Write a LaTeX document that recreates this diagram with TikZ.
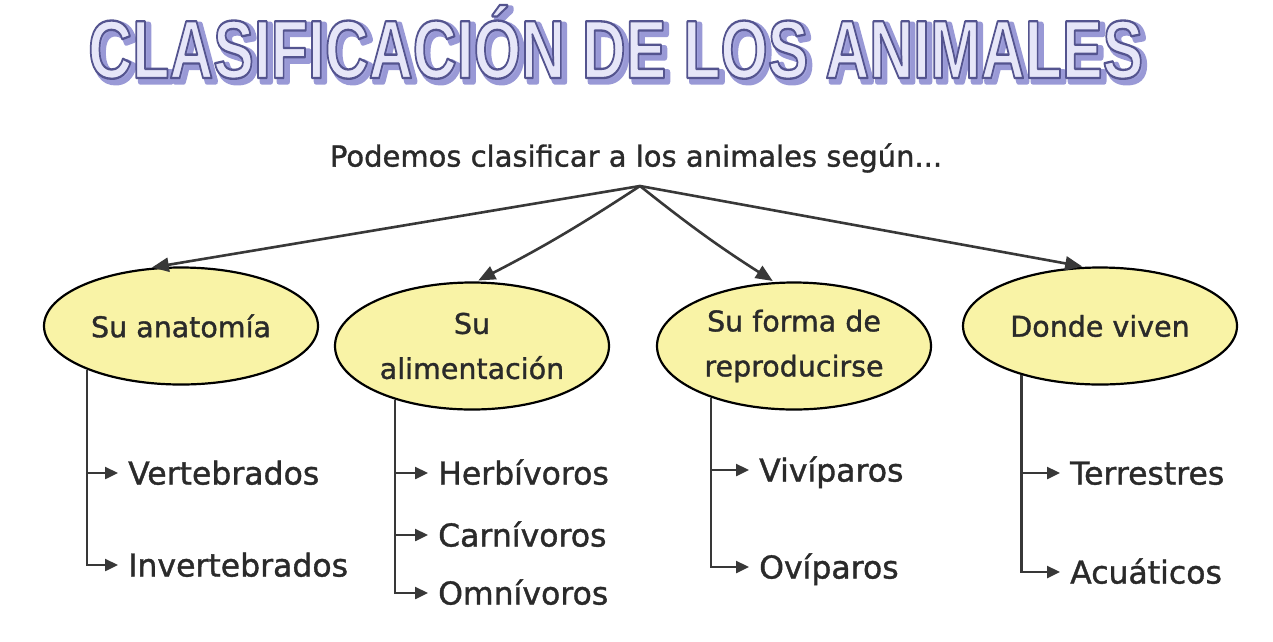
\documentclass[tikz,border=0pt]{standalone}
\usepackage{fontspec}
\setmainfont[RawFeature={embolden=1.2}]{DejaVu Sans}
\newfontfamily\titlefont{Liberation Sans}
\usetikzlibrary{shapes.geometric,arrows.meta,calc}
\definecolor{ink}{HTML}{2A2A2A}
\definecolor{lineink}{HTML}{383838}
\definecolor{ovalfill}{HTML}{F9F3A6}
\definecolor{ttlfill}{HTML}{E6E6F8}
\definecolor{ttlshadow}{HTML}{A2A2DC}
\newcommand{\ttlraw}{\fontsize{78pt}{80pt}\titlefont\bfseries CLASIFICACIÓN DE LOS ANIMALES}
\newcommand{\ttlstroke}[2]{\resizebox{1055pt}{73pt}{\special{pdf:literal direct #1 RG #2 w 1 j 2 Tr}\ttlraw\special{pdf:literal direct 0 Tr}}}
\begin{document}
\begin{tikzpicture}[x=1pt,y=-1pt,
  oval/.style={ellipse,draw=black,line width=2.2pt,fill=ovalfill,minimum width=274pt,inner sep=0pt},
  ovaltext/.style={text=ink,font=\fontsize{28.5pt}{45pt}\selectfont,align=center},
  child/.style={anchor=west,inner xsep=10pt,inner ysep=0pt,text height=23pt,text depth=0pt,text=ink,font=\fontsize{31.5pt}{34pt}\selectfont},
  arr/.style={draw=lineink,line width=2.6pt,-{Triangle[length=17pt,width=14pt]}},
  br/.style={draw=lineink,line width=2.4pt,-{Triangle[length=13pt,width=12pt]}},
  ttl/.style={anchor=base west,inner sep=0pt}]
\useasboundingbox[fill=white] (0,0) rectangle (1273,641);
% title
\node[ttl,text=ttlshadow] (titleshadow) at (92,81.5) {\ttlstroke{0.60 0.60 0.84}{6}};
\node[ttl,text=ttlfill] (title) at (88,78) {\ttlstroke{0.33 0.33 0.56}{2.2}};
% root
\node[text=ink,font=\fontsize{29pt}{32pt}\selectfont] (root) at (636,158) {Podemos clasificar a los animales según...};
\coordinate (r) at (640,186);
% ovals
\node[oval,minimum height=117pt,label={[ovaltext]center:Su anatomía}] (e1) at (181,326) {};
\node[oval,minimum height=127pt,label={[ovaltext]center:Su\\alimentación}] (e2) at (472,346) {};
\node[oval,minimum height=127pt,label={[ovaltext]center:Su forma de\\reproducirse}] (e3) at (794,346) {};
\node[oval,minimum height=117pt,label={[ovaltext]center:Donde viven}] (e4) at (1100,326) {};
\draw[arr,shorten >=3pt] (r) -- (e1.119);
\draw[arr,shorten >=2pt] (r) to[bend left=3] (e2.86);
\draw[arr,shorten >=2pt] (r) to[bend right=3] (e3.107);
\draw[arr,shorten >=2pt] (r) -- (e4.105);
% children
\node[child] (a1) at (118,473) {Vertebrados};
\node[child] (a2) at (118,565) {Invertebrados};
\node[child] (b1) at (428,473) {Herbívoros};
\node[child] (b2) at (428,535) {Carnívoros};
\node[child] (b3) at (428,593) {Omnívoros};
\node[child] (c1) at (749,470) {Vivíparos};
\node[child] (c2) at (749,567) {Ovíparos};
\node[child] (d1) at (1060,473) {Terrestres};
\node[child] (d2) at (1060,572) {Acuáticos};
\draw[br] (e1.205) |- (a1.west);
\draw[br] (e1.205) |- (a2.west);
\draw[br] (e2.215) |- (b1.west);
\draw[br] (e2.215) |- (b2.west);
\draw[br] (e2.215) |- (b3.west);
\draw[br] (e3.212) |- (c1.west);
\draw[br] (e3.212) |- (c2.west);
\draw[br] (e4.212) |- (d1.west);
\draw[br] (e4.212) |- (d2.west);
\end{tikzpicture}
\end{document}
